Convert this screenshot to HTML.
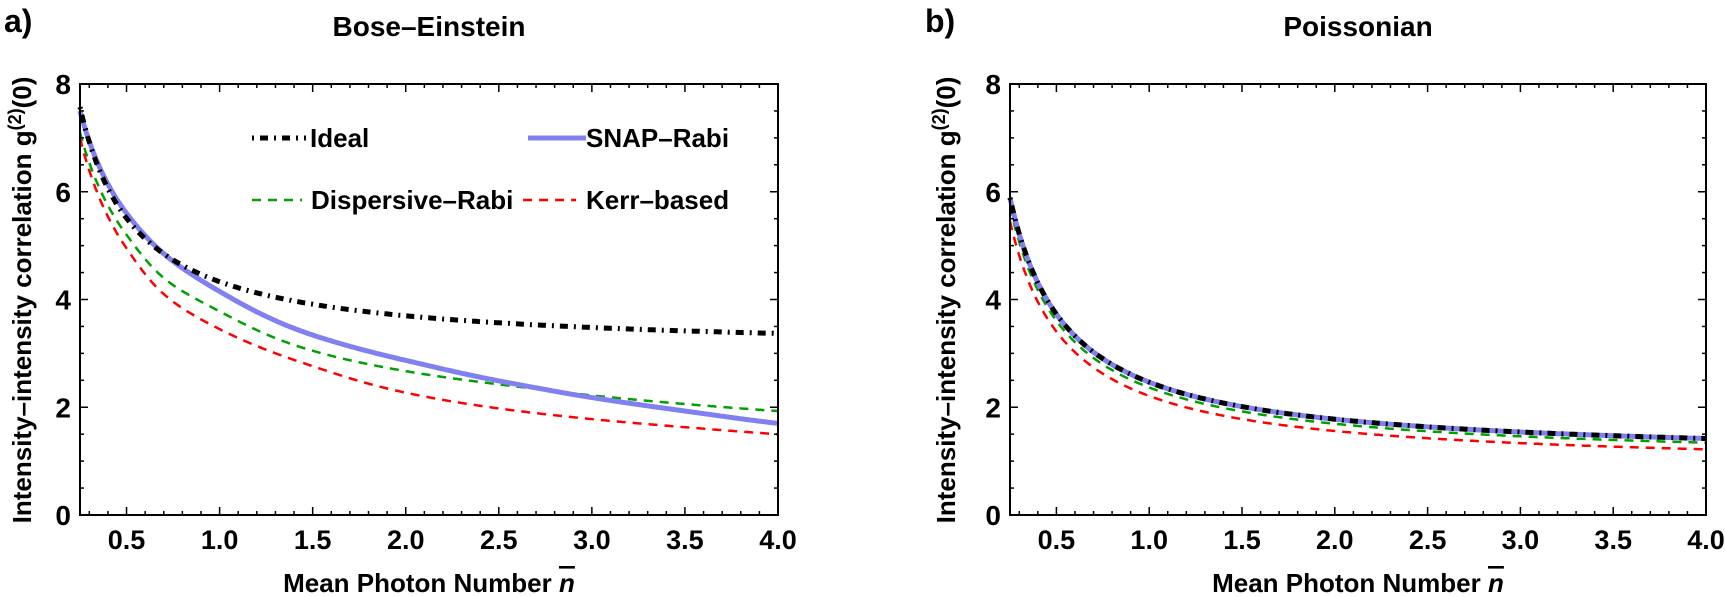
<!DOCTYPE html>
<html><head><meta charset="utf-8"><style>
html,body{margin:0;padding:0;background:#fff;}
svg{display:block;}
text{font-family:"Liberation Sans",Arial,sans-serif;font-weight:bold;fill:#000;}
</style></head><body>
<svg id="s" width="1725" height="597" viewBox="0 0 1725 597" xmlns="http://www.w3.org/2000/svg">
<text x="4" y="32" font-size="32">a)</text>
<text x="925" y="32" font-size="32">b)</text>
<text x="429" y="36" font-size="28" text-anchor="middle">Bose–Einstein</text>
<text x="1358" y="36" font-size="28" text-anchor="middle">Poissonian</text>
<text x="429" y="592" font-size="26" text-anchor="middle">Mean Photon Number <tspan font-style="italic" text-decoration="overline">n</tspan></text>
<text x="1358" y="592" font-size="26" text-anchor="middle">Mean Photon Number <tspan font-style="italic" text-decoration="overline">n</tspan></text>
<text transform="translate(31,300) rotate(-90)" font-size="26" text-anchor="middle">Intensity–intensity correlation g<tspan dy="-10" font-size="18">(2)</tspan><tspan dy="10">(0)</tspan></text>
<text transform="translate(955,300) rotate(-90)" font-size="26" text-anchor="middle">Intensity–intensity correlation g<tspan dy="-10" font-size="18">(2)</tspan><tspan dy="10">(0)</tspan></text>
<g id="legend">
<line x1="252" y1="138" x2="306" y2="138" stroke="#000" stroke-width="5" stroke-dasharray="2,6,8,6"/>
<text x="310" y="147" font-size="26">Ideal</text>
<line x1="528" y1="138" x2="586" y2="138" stroke="#8080f0" stroke-width="5"/>
<text x="586" y="147" font-size="26">SNAP–Rabi</text>
<line x1="252" y1="200" x2="302" y2="200" stroke="#00a000" stroke-width="2.5" stroke-dasharray="9,7"/>
<text x="311" y="209" font-size="26">Dispersive–Rabi</text>
<line x1="523" y1="200" x2="576" y2="200" stroke="#ff0000" stroke-width="2.5" stroke-dasharray="9,7"/>
<text x="586" y="209" font-size="26">Kerr–based</text>
</g>
</svg>
<script>
var NS="http://www.w3.org/2000/svg",s=document.getElementById('s');
function el(t,a){var e=document.createElementNS(NS,t);for(var k in a)e.setAttribute(k,a[k]);s.appendChild(e);return e;}
function txt(x,y,t,anc,fs){var e=el('text',{x:x,y:y,'font-size':fs||24,'text-anchor':anc});e.textContent=t;}
function U(x){return 1/(x+0.1);}
function interp(raw,x){var pts=raw.map(function(p){return [U(p[0]),p[1]];}).reverse();var u=U(x);
 for(var i=0;i<pts.length-1;i++){if(u<=pts[i+1][0]||i==pts.length-2){var p0=pts[Math.max(i-1,0)],p1=pts[i],p2=pts[i+1],p3=pts[Math.min(i+2,pts.length-1)];var h=p2[0]-p1[0];var t=(u-p1[0])/h;
 var m1=(p2[1]-p0[1])/(p2[0]-p0[0])*h,m2=(p3[1]-p1[1])/(p3[0]-p1[0])*h;
 var t2=t*t,t3=t2*t;return (2*t3-3*t2+1)*p1[1]+(t3-2*t2+t)*m1+(-2*t3+3*t2)*p2[1]+(t3-t2)*m2;}}return pts[0][1];}
function panel(L,T,R,B,curves){
 var sx=function(v){return L+(v-0.25)/3.75*(R-L);},sy=function(v){return B-v/8*(B-T);};
 curves.forEach(function(c){var d='';for(var i=0;i<=400;i++){var x=0.25+3.75*i/400;var y=c.f(x);d+=(i?'L':'M')+sx(x).toFixed(1)+','+sy(y).toFixed(1);}
  var a={d:d,fill:'none',stroke:c.col,'stroke-width':c.w};if(c.dash)a['stroke-dasharray']=c.dash;el('path',a);});
 el('rect',{x:L,y:T,width:R-L,height:B-T,fill:'none',stroke:'#000','stroke-width':2});
 for(var k=3;k<=40;k++){var v=k/10,x=sx(v),maj=(k%5==0),len=maj?8:4;
  el('line',{x1:x,y1:B,x2:x,y2:B-len,stroke:'#000','stroke-width':1.5});
  el('line',{x1:x,y1:T,x2:x,y2:T+len,stroke:'#000','stroke-width':1.5});
  if(maj)txt(x,549,v.toFixed(1),'middle',27);}
 for(var k=0;k<=16;k++){var v=k/2,y=sy(v),maj=(k%4==0),len=maj?8:4;
  el('line',{x1:L,y1:y,x2:L+len,y2:y,stroke:'#000','stroke-width':1.5});
  el('line',{x1:R,y1:y,x2:R-len,y2:y,stroke:'#000','stroke-width':1.5});
  if(maj)txt(L-9,y+10,String(v),'end',28);}
}
var snap=[[0.25,7.5],[0.5,5.6],[0.7,4.85],[1.0,4.15],[1.45,3.4],[2.0,2.87],[2.56,2.45],[3.0,2.18],[3.5,1.93],[4,1.70]];
var grn=[[0.25,7.1],[0.5,5.2],[0.7,4.4],[1.0,3.78],[1.45,3.1],[2.0,2.67],[2.56,2.40],[3.0,2.22],[3.5,2.06],[4,1.93]];
var red=[[0.25,7.0],[0.5,4.95],[0.7,4.1],[1.0,3.45],[1.45,2.82],[2.0,2.27],[2.56,1.95],[3.0,1.78],[3.5,1.63],[4,1.50]];
panel(80,84,778,515,[
 {f:function(x){return interp(grn,x);},col:'#00a000',w:2.5,dash:'9,7'},
 {f:function(x){return interp(red,x);},col:'#ff0000',w:2.5,dash:'9,7'},
 {f:function(x){return interp(snap,x);},col:'#8080f0',w:5},
 {f:function(x){return 3.034+1.361/(x+0.05);},col:'#000',w:5,dash:'2,6,8,6'}
]);
panel(1010,84,1706,515,[
 {f:function(x){return 0.98+1.47/(x+0.06);},col:'#00a000',w:2.5,dash:'9,7'},
 {f:function(x){return 0.87+1.42/(x+0.06);},col:'#ff0000',w:2.5,dash:'9,7'},
 {f:function(x){return 1.05+1.5/(x+0.06);},col:'#8080f0',w:5},
 {f:function(x){return 1.05+1.5/(x+0.06);},col:'#000',w:5,dash:'2,6,8,6'}
]);
</script>
</body></html>
